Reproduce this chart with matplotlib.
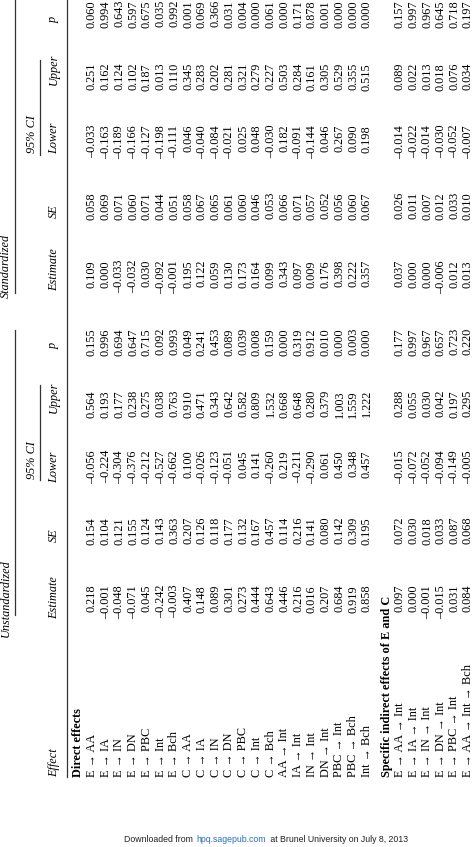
import matplotlib
matplotlib.use("Agg")
import matplotlib.pyplot as plt

plt.rcParams['font.family'] = ['Liberation Serif', 'DejaVu Serif']

# rows of the table
direct_effects = ["E → AA", "E → IA", "E → IN", "E → DN", "E → PBC", "E → Int", "E → Bch",
                  "C → AA", "C → IA", "C → IN", "C → DN", "C → PBC", "C → Int", "C → Bch",
                  "AA → Int", "IA → Int", "IN → Int", "DN → Int", "PBC → Int", "PBC → Bch", "Int → Bch"]
indirect_effects = ["E → AA → Int", "E → IA → Int", "E → IN → Int", "E → DN → Int",
                    "E → PBC → Int", "E → AA → Int → Bch"]

# unstandardized, direct
u_est = [0.218, -0.001, -0.048, -0.071, 0.045, -0.242, -0.003, 0.407, 0.148, 0.089, 0.301,
         0.273, 0.444, 0.643, 0.446, 0.216, 0.016, 0.207, 0.684, 0.919, 0.858]
u_se = [0.154, 0.104, 0.121, 0.155, 0.124, 0.143, 0.363, 0.207, 0.126, 0.118, 0.177,
        0.132, 0.167, 0.457, 0.114, 0.216, 0.141, 0.080, 0.142, 0.309, 0.195]
u_low = [-0.056, -0.224, -0.304, -0.376, -0.212, -0.527, -0.662, 0.100, -0.026, -0.123, -0.051,
         0.045, 0.141, -0.260, 0.219, -0.211, -0.290, 0.061, 0.450, 0.348, 0.457]
u_up = [0.564, 0.193, 0.177, 0.238, 0.275, 0.038, 0.763, 0.910, 0.471, 0.343, 0.642,
        0.582, 0.809, 1.532, 0.668, 0.648, 0.280, 0.379, 1.003, 1.559, 1.222]
u_p = [0.155, 0.996, 0.694, 0.647, 0.715, 0.092, 0.993, 0.049, 0.241, 0.453, 0.089,
       0.039, 0.008, 0.159, 0.000, 0.319, 0.912, 0.010, 0.000, 0.003, 0.000]
# standardized, direct
s_est = [0.109, 0.000, -0.033, -0.032, 0.030, -0.092, -0.001, 0.195, 0.122, 0.059, 0.130,
         0.173, 0.164, 0.099, 0.343, 0.097, 0.009, 0.176, 0.398, 0.222, 0.357]
s_se = [0.058, 0.069, 0.071, 0.060, 0.071, 0.044, 0.051, 0.058, 0.067, 0.065, 0.061,
        0.060, 0.046, 0.053, 0.066, 0.071, 0.057, 0.052, 0.056, 0.060, 0.067]
s_low = [-0.033, -0.163, -0.189, -0.166, -0.127, -0.198, -0.111, 0.046, -0.040, -0.084, -0.021,
         0.025, 0.048, -0.030, 0.182, -0.091, -0.144, 0.046, 0.267, 0.090, 0.198]
s_up = [0.251, 0.162, 0.124, 0.102, 0.187, 0.013, 0.110, 0.345, 0.283, 0.202, 0.281,
        0.321, 0.279, 0.227, 0.503, 0.284, 0.161, 0.305, 0.529, 0.355, 0.515]
s_p = [0.060, 0.994, 0.643, 0.597, 0.675, 0.035, 0.992, 0.001, 0.069, 0.366, 0.031,
       0.004, 0.000, 0.061, 0.000, 0.171, 0.878, 0.001, 0.000, 0.000, 0.000]

# specific indirect effects
ui_est = [0.097, 0.000, -0.001, -0.015, 0.031, 0.084]
ui_se = [0.072, 0.030, 0.018, 0.033, 0.087, 0.068]
ui_low = [-0.015, -0.072, -0.052, -0.094, -0.149, -0.005]
ui_up = [0.288, 0.055, 0.030, 0.042, 0.197, 0.295]
ui_p = [0.177, 0.997, 0.967, 0.657, 0.723, 0.220]
si_est = [0.037, 0.000, 0.000, -0.006, 0.012, 0.013]
si_se = [0.026, 0.011, 0.007, 0.012, 0.033, 0.010]
si_low = [-0.014, -0.022, -0.014, -0.030, -0.052, -0.007]
si_up = [0.089, 0.022, 0.013, 0.018, 0.076, 0.034]
si_p = [0.157, 0.997, 0.967, 0.645, 0.718, 0.197]

W, H = 474, 847
fig = plt.figure(figsize=(W / 100, H / 100), dpi=100)
ax = fig.add_axes([0, 0, 1, 1])
ax.set_xlim(0, W)
ax.set_ylim(H, 0)
ax.axis('off')

FS = 8.8

def fmt(v):
    return f"{v:.3f}".replace("-", "–")

def vtext(x, y, s, ha='right', **kw):
    ax.text(x, y, s, rotation=90, rotation_mode='anchor', ha=ha, va='center',
            fontsize=kw.pop('fontsize', FS), **kw)

# column top positions (text end) - table is rotated
cols_u = [(585, u_est, ui_est), (517, u_se, ui_se), (450, u_low, ui_low),
          (390, u_up, ui_up), (328, u_p, ui_p)]
cols_s = [(260, s_est, si_est), (192, s_se, si_se), (125, s_low, si_low),
          (63, s_up, si_up), (0, s_p, si_p)]

x_direct = [92 + 13.75 * i for i in range(len(direct_effects))]
x_indirect = [400 + 13.6 * i for i in range(len(indirect_effects))]

y_lab = 777
vtext(78, y_lab, "Direct effects", ha='left', fontweight='bold')
vtext(387, y_lab, "Specific indirect effects of E and C", ha='left', fontweight='bold')
for x, lab in zip(x_direct, direct_effects):
    vtext(x, y_lab, lab, ha='left')
for x, lab in zip(x_indirect, indirect_effects):
    vtext(x, y_lab, lab, ha='left')

for top, d, ind in cols_u + cols_s:
    for x, v in zip(x_direct, d):
        vtext(x, top, fmt(v))
    for x, v in zip(x_indirect, ind):
        vtext(x, top, fmt(v))

# headers
hx = 54
vtext(hx, y_lab, "Effect", ha='left', style='italic')
for yc, lab in [(598, "Estimate"), (535, "SE"), (467, "Lower"), (397, "Upper"), (346, "p"),
                (270, "Estimate"), (211, "SE"), (138, "Lower"), (69, "Upper"), (20, "p")]:
    vtext(hx, yc, lab, ha='center', style='italic')
vtext(32, 460, "95% CI", ha='center', style='italic')
vtext(32, 134, "95% CI", ha='center', style='italic')
vtext(6, 598, "Unstandardized", ha='center', style='italic')
vtext(6, 266, "Standardized", ha='center', style='italic')

# rules
lc = '#333333'
ax.plot([67, 67], [0, y_lab], color=lc, lw=0.9)
ax.plot([15, 15], [0, 293], color=lc, lw=0.9)
ax.plot([15, 15], [330, 615], color=lc, lw=0.9)
ax.plot([40, 40], [60, 155], color=lc, lw=0.9)
ax.plot([40, 40], [385, 480], color=lc, lw=0.9)

# footer, pieces placed one after the other
fx = dict(fontsize=6.3, family='Liberation Sans', va='center', ha='left')
renderer = fig.canvas.get_renderer()
x0 = 124
for s, c in [("Downloaded from ", '#222222'), ("hpq.sagepub.com", '#2a6ebb'),
             (" at Brunel University on July 8, 2013", '#222222')]:
    t = ax.text(x0, 839, s, color=c, **fx)
    bb = t.get_window_extent(renderer=renderer)
    x0 += bb.width * 1.02

fig.savefig("out.png", dpi=100)
